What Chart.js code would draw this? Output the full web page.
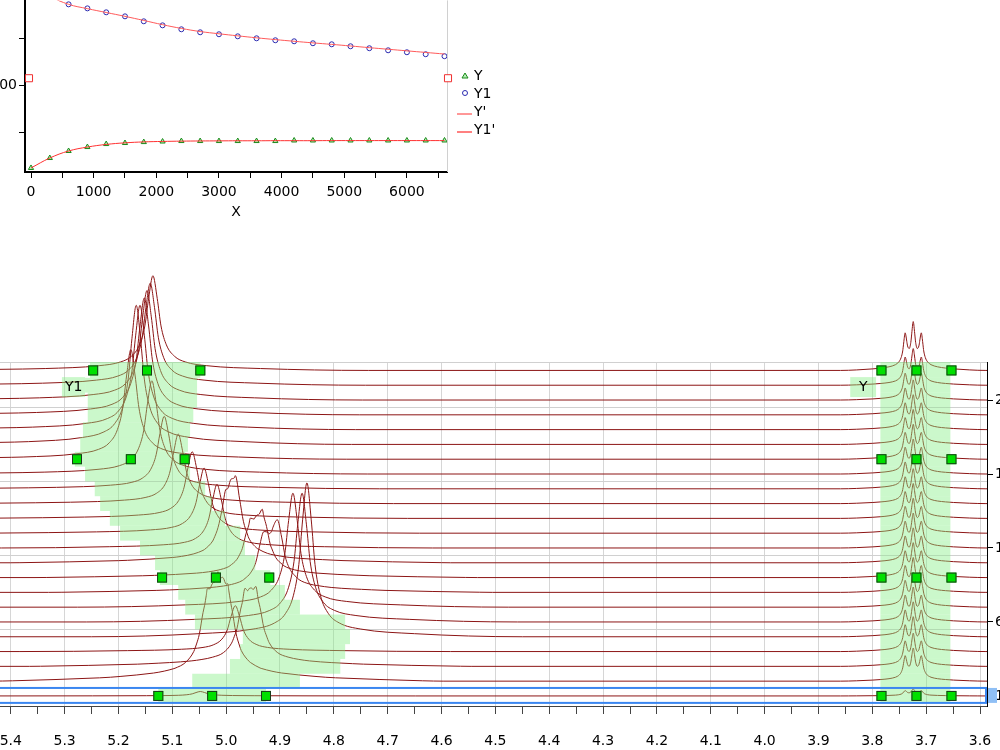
<!DOCTYPE html>
<html><head><meta charset="utf-8">
<script src="https://cdn.jsdelivr.net/npm/chart.js@4"></script>
<style>
html,body{margin:0;padding:0;width:1000px;height:750px;overflow:hidden;background:#fff;font-family:"DejaVu Sans",sans-serif}
canvas{position:absolute}
</style></head><body>
<canvas id="inset" width="560" height="231" style="left:-40px;top:-10px;width:560px;height:231px"></canvas>
<canvas id="main" width="1040" height="540" style="left:0;top:230px;width:1040px;height:540px"></canvas>
<script>
// ---------- inset data ----------
const insetX = [0,300,600,900,1200,1500,1800,2100,2400,2700,3000,3300,3600,3900,4200,4500,4800,5100,5400,5700,6000,6300,6600];
const insetY = [117,223,298,340,372,383,393,399,404,404,404,404,404,404,410,410,410,410,410,410,410,410,410];
const insetY1 = [null,null,1862,1819,1777,1734,1681,1638,1596,1564,1543,1521,1500,1479,1468,1447,1436,1415,1394,1372,1351,1330,1309];
const insetYfit = [117,223,298,340,368,385,395,400,403,405,406,407,407,408,408,408,409,409,409,409,409,409,409];
const insetY1fit = [2080,1950,1862,1816,1775,1734,1690,1645,1605,1572,1548,1526,1505,1486,1468,1451,1435,1418,1400,1383,1366,1349,1332];
const insetHandles = [[-32,1074],[6656,1074]];
const legendNames = ["Y","Y1","Y'","Y1'"];

// ---------- main spectra data ----------
const traceIndex = [1,2,3,4,5,6,7,8,9,10,11,12,13,14,15,16,17,18,19,20,21,22,23];
// left signal peaks per trace: [ppm, height]
const leftPeaks = [
 [[5.048,0.3]],
 [[5.035,4.0],[5.015,4.2],[4.997,4.2]],
 [[4.965,3.8],[4.945,4.0]],
 [[4.983,3.1]],
 [[4.850,10.4]],
 [[4.859,8.7]],
 [[4.876,7.7]],
 [[4.905,4.1],[4.930,3.0]],
 [[4.933,3.7],[4.955,2.8]],
 [[4.983,4.6],[5.000,3.0]],
 [[5.017,4.3]],
 [[5.041,4.4]],
 [[5.063,4.5]],
 [[5.089,4.7]],
 [[5.115,4.9]],
 [[5.138,6.3]],
 [[5.177,7.4]],
 [[5.167,9.4]],
 [[5.160,8.4]],
 [[5.152,7.9]],
 [[5.147,7.4]],
 [[5.141,6.9]],
 [[5.136,6.4]]
];
const rightPos = [3.739,3.724,3.709];
const rightRel = [0.75,1,0.75];
const rightHeight = [0.4,1.9,1.9,2.0,2.0,2.0,2.0,2.0,2.0,2.0,2.0,2.0,2.0,2.0,2.0,2.0,2.0,2.0,2.0,2.0,2.0,2.1,2.8];
// measured lineshape: [offset ppm, relative height]
const lineShape = [[-0.4,0],[-0.2,0.02],[-0.1,0.05],[-0.06,0.09],[-0.04,0.15],[-0.025,0.27],[-0.015,0.47],[-0.008,0.76],[0,1],[0.008,0.76],[0.015,0.47],[0.025,0.27],[0.04,0.15],[0.06,0.09],[0.1,0.05],[0.2,0.02],[0.4,0]];
const rightWidthScale = 0.3;
// green integration bands per trace [left ppm, right ppm]
const leftBand = [[5.126,4.926],[5.063,4.863],[4.993,4.788],[4.974,4.779],[4.969,4.770],[5.058,4.779],[5.076,4.863],[5.089,4.891],[5.123,4.918],[5.132,4.946],[5.160,4.965],[5.197,4.974],[5.216,5.002],[5.234,5.026],[5.244,5.039],[5.262,5.067],[5.281,5.076],[5.271,5.071],[5.266,5.067],[5.257,5.061],[5.257,5.054],[5.262,5.054],[5.253,5.048]];
const rightBand = [3.785,3.655];
const markerRows = [1,9,17,23];
const leftMarkers = {1:[5.126,5.026,4.926],9:[5.119,5.019,4.920],17:[5.277,5.177,5.077],23:[5.247,5.147,5.048]};
const rightMarkers = [3.783,3.718,3.653];
const xTickMajor = [5.4,5.3,5.2,5.1,5.0,4.9,4.8,4.7,4.6,4.5,4.4,4.3,4.2,4.1,4.0,3.9,3.8,3.7,3.6];
const yTicks = [1,6,11,16,21];
const yGrid = [5.5,10.5,15.5,20.5];

const FONT = "DejaVu Sans";

// ---------- inset chart ----------
const toXY = (ys)=>insetX.map((x,i)=>ys[i]==null?null:{x:x,y:ys[i]}).filter(p=>p);
new Chart(document.getElementById('inset'),{
 type:'scatter',
 data:{datasets:[
  {label:"Y'",type:'line',data:toXY(insetYfit),borderColor:'#ff3030',borderWidth:1,pointRadius:0,tension:0.4},
  {label:"Y1'",type:'line',data:toXY(insetY1fit),borderColor:'#ff5a5a',borderWidth:1,pointRadius:0,tension:0.4},
  {label:'Y',data:toXY(insetY),pointStyle:'triangle',pointRadius:3,borderColor:'#1a8a1a',backgroundColor:'#b8f0b8',borderWidth:1},
  {label:'Y1',data:toXY(insetY1),pointStyle:'circle',pointRadius:2.5,borderColor:'#2a2ab0',backgroundColor:'rgba(0,0,0,0)',borderWidth:1},
  {label:'h',data:insetHandles.map(p=>({x:p[0],y:p[1]})),pointStyle:'rect',pointRadius:5,borderColor:'#f03030',backgroundColor:'#fff',borderWidth:1,clip:false}
 ]},
 options:{responsive:false,animation:false,devicePixelRatio:1,
  layout:{padding:{top:0,right:73,left:0,bottom:0}},
  plugins:{legend:{display:false},tooltip:{enabled:false}},
  scales:{
   x:{type:'linear',min:-96,max:6640,
    afterBuildTicks:(s)=>{s.ticks=[0,500,1000,1500,2000,2500,3000,3500,4000,4500,5000,5500,6000,6500].map(v=>({value:v}));},
    afterFit:(s)=>{s.height=49;},
    grid:{display:true,drawOnChartArea:false,tickLength:6,color:'#000'},
    border:{color:'#000',width:2},
    ticks:{color:'#000',font:{family:FONT,size:14},padding:6,maxRotation:0,autoSkip:false,callback:(v)=>v%1000===0?String(v):''},
    title:{display:true,text:'X',color:'#000',font:{family:FONT,size:14},padding:0}},
   y:{type:'linear',min:74,max:1904,
    afterBuildTicks:(s)=>{s.ticks=[500,1000,1500].map(v=>({value:v}));},
    afterFit:(s)=>{s.width=65;},
    grid:{display:true,drawOnChartArea:false,tickLength:6,color:'#000'},
    border:{color:'#000',width:2},
    ticks:{color:'#000',font:{family:FONT,size:14},padding:2,callback:(v)=>v===1000?'1000':''}}
  }},
 plugins:[{id:'insetDeco',
  beforeDatasetsDraw(c){const a=c.chartArea,ctx=c.ctx;ctx.save();ctx.strokeStyle='#d0d0d0';ctx.lineWidth=1;ctx.beginPath();ctx.moveTo(a.right+0.5,a.top);ctx.lineTo(a.right+0.5,a.bottom);ctx.stroke();ctx.restore();},
  afterDraw(c){const ctx=c.ctx,a=c.chartArea;ctx.save();
   const x0=a.right+15, ys=[86,104,122,140];
   ctx.font='14px '+FONT;ctx.fillStyle='#000';ctx.textBaseline='middle';
   legendNames.forEach((n,i)=>{ctx.fillText(n,x0+12,ys[i]);});
   ctx.strokeStyle='#1a8a1a';ctx.fillStyle='#b8f0b8';ctx.beginPath();ctx.moveTo(x0+3,ys[0]-3);ctx.lineTo(x0+6,ys[0]+2);ctx.lineTo(x0,ys[0]+2);ctx.closePath();ctx.fill();ctx.stroke();
   ctx.strokeStyle='#2a2ab0';ctx.beginPath();ctx.arc(x0+3,ys[1]-1,2.5,0,Math.PI*2);ctx.stroke();
   ctx.strokeStyle='#ff3030';ctx.beginPath();ctx.moveTo(x0-5,ys[2]+2);ctx.lineTo(x0+10,ys[2]+2);ctx.stroke();
   ctx.strokeStyle='#ff8080';ctx.lineWidth=2;ctx.beginPath();ctx.moveTo(x0-5,ys[3]+2);ctx.lineTo(x0+10,ys[3]+2);ctx.stroke();
   ctx.restore();}
 }]
});

// ---------- main chart ----------
function shapeAt(d){
 if(d<=lineShape[0][0]||d>=lineShape[lineShape.length-1][0])return 0;
 for(let i=1;i<lineShape.length;i++){if(d<=lineShape[i][0]){const a=lineShape[i-1],b=lineShape[i];return a[1]+(b[1]-a[1])*(d-a[0])/(b[0]-a[0]);}}
 return 0;
}
const X_MIN=3.587, X_MAX=5.420;
const datasets = traceIndex.map((n,k)=>{
 const peaks = leftPeaks[k].map(p=>({pos:p[0],h:p[1],w:1}))
  .concat(rightPos.map((p,j)=>({pos:p,h:rightHeight[k]*rightRel[j],w:rightWidthScale})));
 let xs=[X_MIN,X_MAX];
 peaks.forEach(p=>lineShape.forEach(s=>{const x=p.pos+s[0]*p.w;if(x>X_MIN&&x<X_MAX)xs.push(x);}));
 xs=[...new Set(xs.map(x=>+x.toFixed(5)))].sort((a,b)=>a-b);
 const pts=xs.map(x=>{let y=n;peaks.forEach(p=>{y+=p.h*shapeAt((x-p.pos)/p.w);});return {x:x,y:y};});
 return {data:pts,type:'line',borderColor:'#8c1515',borderWidth:1,pointRadius:0,tension:0.3,cubicInterpolationMode:'monotone',clip:false};
});

new Chart(document.getElementById('main'),{
 type:'line',
 data:{datasets:datasets},
 options:{responsive:false,animation:false,devicePixelRatio:1,parsing:false,
  layout:{padding:{top:132,left:0,right:0,bottom:0}},
  plugins:{legend:{display:false},tooltip:{enabled:false}},
  scales:{
   x:{type:'linear',min:X_MIN,max:X_MAX,reverse:true,
    afterBuildTicks:(s)=>{const t=[];for(let i=0;i<=36;i++)t.push({value:+(3.6+i*0.05).toFixed(2)});s.ticks=t;},
    afterFit:(s)=>{s.height=64;},
    grid:{color:(c)=>{const v=c.tick?c.tick.value:0;return Math.abs(v*10-Math.round(v*10))<1e-6?'#d6d6d6':'rgba(0,0,0,0)';},
      tickColor:'#444',tickLength:8,lineWidth:1},
    border:{color:'#444',width:1},
    ticks:{color:'#000',font:{family:FONT,size:14},padding:19,maxRotation:0,autoSkip:false,
      callback:(v)=>{const m=xTickMajor.find(t=>Math.abs(t-v)<1e-6);return m!==undefined?m.toFixed(1):'';}},
    title:{display:true,text:'¹H (ppm)',color:'#000',font:{family:FONT,size:14},padding:{top:0,bottom:0}}},
   y:{type:'linear',position:'right',min:0.32,max:23.57,
    afterBuildTicks:(s)=>{s.ticks=yTicks.map(v=>({value:v}));},
    afterFit:(s)=>{s.width=53;},
    grid:{drawOnChartArea:false,tickLength:6,color:'#000'},
    border:{color:'#000',width:1},
    ticks:{color:'#000',font:{family:FONT,size:14},padding:2}},
   y2:{type:'linear',display:true,position:'right',min:0.32,max:23.57,
    afterBuildTicks:(s)=>{s.ticks=yGrid.map(v=>({value:v}));},
    afterFit:(s)=>{s.width=0;},
    grid:{color:'#d0d0d0',drawTicks:false},border:{display:false},ticks:{display:false}}
  }},
 plugins:[{id:'deco',
  beforeDatasetsDraw(c){const ctx=c.ctx,a=c.chartArea;ctx.save();ctx.strokeStyle='#d0d0d0';ctx.beginPath();ctx.moveTo(a.left,a.top+0.5);ctx.lineTo(a.right,a.top+0.5);ctx.stroke();ctx.restore();},
  afterDatasetsDraw(c){
   const ctx=c.ctx,xs=c.scales.x,ys=c.scales.y,a=c.chartArea;
   ctx.save();
   ctx.fillStyle='rgba(130,238,130,0.42)';
   const rect=(x1,x2,y1,y2)=>{const px1=xs.getPixelForValue(x1),px2=xs.getPixelForValue(x2),py1=ys.getPixelForValue(y1),py2=ys.getPixelForValue(y2);ctx.fillRect(Math.min(px1,px2),Math.min(py1,py2),Math.abs(px2-px1),Math.abs(py2-py1));};
   traceIndex.forEach((n,k)=>{
    const top=(n===23)?23.57:n+0.5;
    rect(leftBand[k][0],leftBand[k][1],n-0.5,top);
    rect(rightBand[0],rightBand[1],n-0.5,top);
   });
   rect(5.305,5.262,21.2,22.55);
   rect(3.841,3.793,21.2,22.55);
   ctx.fillStyle='#000';ctx.font='14px '+FONT;ctx.textAlign='center';ctx.textBaseline='middle';
   ctx.fillText('Y1',xs.getPixelForValue(5.283),ys.getPixelForValue(21.85));
   ctx.fillText('Y',xs.getPixelForValue(3.817),ys.getPixelForValue(21.85));
   const sq=(x,y)=>{const px=xs.getPixelForValue(x),py=ys.getPixelForValue(y);ctx.fillStyle='#00e000';ctx.fillRect(px-5,py-5,10,10);ctx.strokeStyle='#1a3a1a';ctx.lineWidth=1;ctx.strokeRect(px-5+0.5,py-5+0.5,9,9);};
   markerRows.forEach(n=>{leftMarkers[n].forEach(x=>sq(x,n));rightMarkers.forEach(x=>sq(x,n));});
   const by1=ys.getPixelForValue(1.54),by2=ys.getPixelForValue(0.53);
   ctx.strokeStyle='#3a86f0';ctx.lineWidth=2;ctx.strokeRect(a.left-2,by1,a.right-a.left+1,by2-by1);
   ctx.fillStyle='#8fbff5';ctx.fillRect(a.right+1,by1,9,by2-by1);
   ctx.restore();}
 }]
});
</script></body></html>
